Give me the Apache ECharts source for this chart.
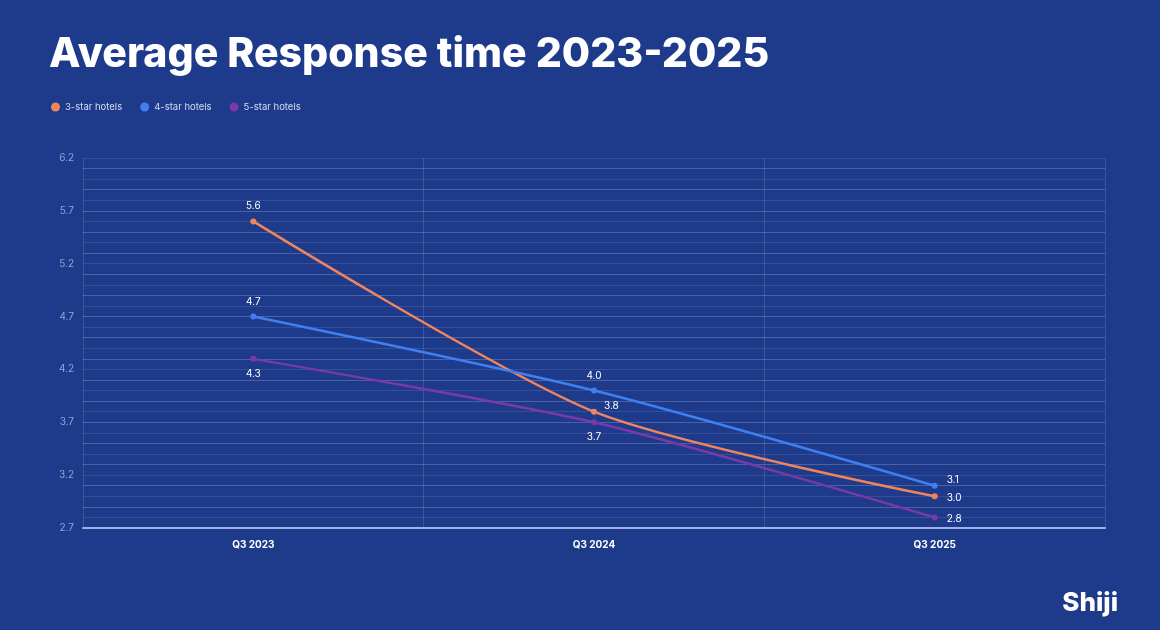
<!DOCTYPE html>
<html>
<head>
<meta charset="utf-8">
<script src="https://cdn.jsdelivr.net/npm/echarts@6/dist/echarts.min.js"></script>
<style>
html,body{margin:0;padding:0;background:#1e3a8a;}
#chart{width:1160px;height:630px;}
</style>
</head>
<body>
<div id="chart"></div>
<script>
// 数据
const quarters = ['Q3 2023', 'Q3 2024', 'Q3 2025'];
const seriesNames = ['3-star hotels', '4-star hotels', '5-star hotels'];
const star3 = [5.6, 3.8, 3.0];
const star4 = [4.7, 4.0, 3.1];
const star5 = [4.3, 3.7, 2.8];
const yMin = 2.7, yMax = 6.2;

const colors = ['#f0845c', '#3f7ff0', '#7a3aa6'];
// 每个点的标签位置
const labelPos = [
  ['top', 'right', 'right'],
  ['top', 'top', 'right'],
  ['bottom', 'bottom', 'right']
];
const labelOffset = [
  [[0, 0], [0, -6], [2, 2]],
  [[0, 0], [0, 0], [2, -6]],
  [[0, 0], [0, 0], [2, 2]]
];

const chart = echarts.init(document.getElementById('chart'));
const allData = [star3, star4, star5];
const series = allData.map((vals, i) => ({
  name: seriesNames[i],
  type: 'line',
  smooth: 0.25,
  symbol: 'circle',
  symbolSize: 6,
  lineStyle: { width: 2.5, color: colors[i] },
  itemStyle: { color: colors[i] },
  data: vals.map((v, j) => ({
    value: v,
    label: {
      show: true,
      position: labelPos[i][j],
      offset: labelOffset[i][j],
      distance: 7,
      color: '#ffffff',
      fontSize: 10,
      fontFamily: 'Inter, sans-serif',
      formatter: (p) => p.value.toFixed(1)
    }
  }))
}));

const option = {
  backgroundColor: '#1e3a8a',
  title: {
    text: 'Average Response time 2023-2025',
    left: 44,
    top: 29,
    textStyle: { color: '#ffffff', fontSize: 41, fontWeight: 800, fontFamily: 'Inter, sans-serif' }
  },
  legend: {
    left: 46,
    top: 97,
    icon: 'circle',
    itemWidth: 9,
    itemHeight: 9,
    itemGap: 18,
    textStyle: { color: '#d5dcf2', fontSize: 9.5, fontFamily: 'Inter, sans-serif' },
    data: seriesNames
  },
  color: colors,
  grid: { left: 83, right: 55, top: 158, bottom: 102 },
  xAxis: {
    type: 'category',
    data: quarters,
    boundaryGap: true,
    axisLine: { lineStyle: { color: '#9fb0e6', width: 2 } },
    axisTick: { show: false },
    axisLabel: { color: '#ffffff', fontSize: 10, fontWeight: 700, margin: 12, fontFamily: 'Inter, sans-serif' },
    splitLine: { show: true, lineStyle: { color: 'rgba(255,255,255,0.13)', width: 1 } }
  },
  yAxis: {
    type: 'value',
    min: yMin,
    max: yMax,
    interval: 0.1,
    axisLine: { show: false },
    axisTick: { show: false },
    axisLabel: {
      color: '#93a3d6',
      fontSize: 10,
      margin: 9,
      fontFamily: 'Inter, sans-serif',
      formatter: (v) => {
        const k = Math.round((v - yMin) * 10);
        return k % 5 === 0 ? v.toFixed(1) : '';
      }
    },
    splitLine: { lineStyle: { color: ['rgba(255,255,255,0.2)', 'rgba(255,255,255,0.11)'], width: 1 } }
  },
  graphic: [{
    type: 'text',
    right: 42,
    bottom: 14,
    style: { text: 'Shiji', fill: '#ffffff', fontSize: 26, fontWeight: 800, fontFamily: 'Inter, sans-serif' }
  }],
  series: series
};
chart.setOption(option);
</script>
</body>
</html>
